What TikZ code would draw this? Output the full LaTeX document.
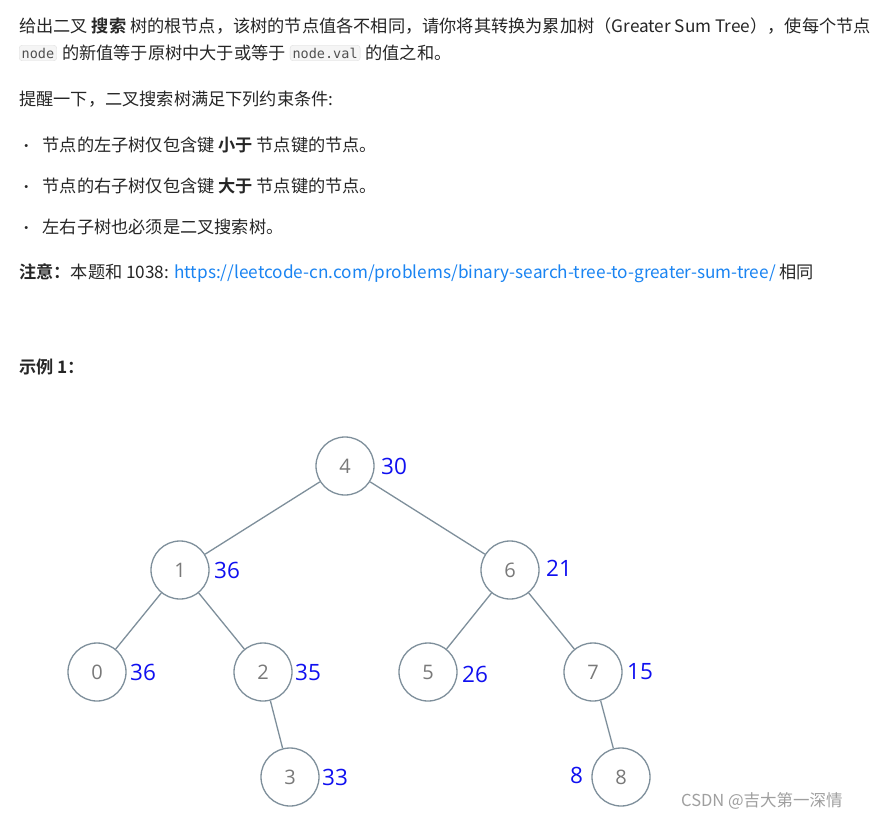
\documentclass[tikz,border=0pt]{standalone}
\usepackage{fontspec}
\setmainfont{Noto Sans CJK SC}
\newfontfamily\cjkb{Noto Sans CJK SC Bold}
\newfontfamily\codef{DejaVu Sans Mono}
\newfontfamily\lab{Open Sans}
\definecolor{txt}{HTML}{262626}
\definecolor{link}{HTML}{1A84F2}
\definecolor{edge}{HTML}{7E8F9B}
\definecolor{val}{HTML}{1010F0}
\begin{document}
\begin{tikzpicture}[x=1pt,y=-1pt,
  tx/.style={anchor=west,inner sep=0pt,font=\fontsize{17.2}{20}\selectfont,text=txt},
  code/.style={anchor=west,inner sep=2.5pt,rounded corners=3pt,draw=gray!25,fill=gray!8,font=\codef\fontsize{13.5}{15}\selectfont,text=txt!80},
  tn/.style={circle,draw=edge,line width=1.3pt,minimum size=58pt,inner sep=0pt,text=gray!95!black,font=\lab\fontsize{20}{22}\selectfont},
  vl/.style={text=val,font=\lab\fontsize{22.5}{24}\selectfont,inner sep=0pt},
  ed/.style={draw=edge,line width=1.3pt}]
\useasboundingbox (0,0) rectangle (889,820);
\fill[white] (0,0) rectangle (889,820);
\node[tx] (l1) at (19,26) {给出二叉 {\cjkb 搜索} 树的根节点，该树的节点值各不相同，请你将其转换为累加树（Greater Sum Tree），使每个节点};
\node[code] (c1) at (19,53) {node};
\node[tx,anchor=west] (l2) at ([xshift=5pt]c1.east) {的新值等于原树中大于或等于};
\node[code,anchor=west] (c2) at ([xshift=4pt]l2.east) {node.val};
\node[tx,anchor=west] (l2b) at ([xshift=5pt]c2.east) {的值之和。};
\node[tx] (l3) at (19,99) {提醒一下，二叉搜索树满足下列约束条件:};
\node[tx] (b1) at (19,145) {{\Large\textbullet}\hspace{9pt}节点的左子树仅包含键 {\cjkb 小于} 节点键的节点。};
\node[tx] (b2) at (19,186) {{\Large\textbullet}\hspace{9pt}节点的右子树仅包含键 {\cjkb 大于} 节点键的节点。};
\node[tx] (b3) at (19,227) {{\Large\textbullet}\hspace{9pt}左右子树也必须是二叉搜索树。};
\node[tx] (n1) at (19,273) {{\cjkb 注意：}本题和 1038: \textcolor{link}{https://leetcode-cn.com/problems/binary-search-tree-to-greater-sum-tree/} 相同};
\node[tx] (ex) at (19,367) {\cjkb 示例 1：};
% tree
\node[tn] (t4) at (345,466) {4};
\node[tn] (t1) at (180,570) {1};
\node[tn] (t6) at (510,570) {6};
\node[tn] (t0) at (97,672) {0};
\node[tn] (t2) at (263,672) {2};
\node[tn] (t5) at (428,672) {5};
\node[tn] (t7) at (593,672) {7};
\node[tn] (t3) at (290,777) {3};
\node[tn] (t8) at (621,777) {8};
\draw[ed] (t4)--(t1); \draw[ed] (t4)--(t6);
\draw[ed] (t1)--(t0); \draw[ed] (t1)--(t2);
\draw[ed] (t6)--(t5); \draw[ed] (t6)--(t7);
\draw[ed] (t2)--(t3); \draw[ed] (t7)--(t8);
\node[vl,anchor=west] (v4) at (381,466) {30};
\node[vl,anchor=west] (v1) at (214,570) {36};
\node[vl,anchor=west] (v6) at (546,568) {21};
\node[vl,anchor=west] (v0) at (130,672) {36};
\node[vl,anchor=west] (v2) at (295,672) {35};
\node[vl,anchor=west] (v5) at (462,674) {26};
\node[vl,anchor=west] (v7) at (627,672) {15};
\node[vl,anchor=west] (v3) at (322,777) {33};
\node[vl,anchor=west] (v8) at (570,775) {8};
\node[anchor=west,inner sep=0pt,text=gray!75,font=\fontsize{16.5}{18}\selectfont] (wm) at (681,801) {CSDN @吉大第一深情};
\end{tikzpicture}
\end{document}
